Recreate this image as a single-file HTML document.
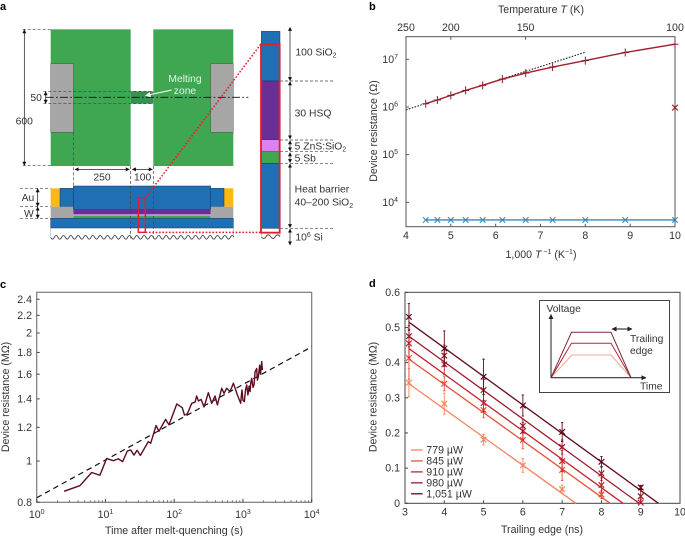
<!DOCTYPE html>
<html>
<head>
<meta charset="utf-8">
<style>
html,body{margin:0;padding:0;background:#fff;width:685px;height:536px;overflow:hidden}
svg{display:block;font-family:"Liberation Sans",sans-serif;fill:#333;filter:blur(0.3px)}
text{fill:#333}
</style>
</head>
<body>
<svg id="fig" width="685" height="536" viewBox="0 0 685 536" xmlns="http://www.w3.org/2000/svg">
<defs>
<marker id="ah" viewBox="0 0 10 10" refX="9" refY="5" markerWidth="12" markerHeight="12" markerUnits="userSpaceOnUse" orient="auto-start-reverse"><path d="M0 0L10 5L0 10Z" fill="#111"/></marker>
<marker id="ah2" viewBox="0 0 10 10" refX="9" refY="5" markerWidth="5" markerHeight="5" markerUnits="userSpaceOnUse" orient="auto-start-reverse"><path d="M0 0L10 5L0 10Z" fill="#222"/></marker>
<marker id="aw" viewBox="0 0 10 10" refX="9" refY="5" markerWidth="16" markerHeight="16" markerUnits="userSpaceOnUse" orient="auto"><path d="M0 0L10 5L0 10Z" fill="#fff"/></marker>
</defs>

<g font-weight="bold" font-size="11">
<text x="0" y="10" style="fill:#000">a</text>
<text x="369" y="10" style="fill:#000">b</text>
<text x="0" y="288" style="fill:#000">c</text>
<text x="369" y="287" style="fill:#000">d</text>
</g>

<g transform="scale(0.33333)" font-size="31">
<rect x="152" y="88" width="240" height="410" fill="#3fa752"/>
<rect x="460" y="88" width="240" height="410" fill="#3fa752"/>
<rect x="392" y="274" width="68" height="37" fill="#37924f"/>
<rect x="152" y="191" width="68" height="206" fill="#a6a6a6" stroke="#3a4a3a" stroke-width="1.2"/>
<rect x="632" y="191" width="68" height="206" fill="#a6a6a6" stroke="#3a4a3a" stroke-width="1.2"/>

<g stroke="#1c3554" stroke-width="1.5">
<rect x="152" y="565" width="28" height="55" fill="#fdb913" stroke="none"/>
<rect x="672" y="565" width="28" height="55" fill="#fdb913" stroke="none"/>
<rect x="180" y="565" width="40" height="55" fill="#1f6fb5"/>
<rect x="632" y="565" width="40" height="55" fill="#1f6fb5"/>
<rect x="152" y="620" width="68" height="35" fill="#a6a6a6" stroke="none"/>
<rect x="632" y="620" width="68" height="35" fill="#a6a6a6" stroke="none"/>
<rect x="220" y="558" width="412" height="70" fill="#1f6fb5"/>
<rect x="220" y="628" width="412" height="15" fill="#6b2d96" stroke="none"/>
<rect x="220" y="643" width="412" height="5" fill="#c88ae0" stroke="none"/>
<rect x="220" y="648" width="412" height="7" fill="#3fa752" stroke="none"/>
<rect x="152" y="655" width="548" height="29" fill="#1f6fb5"/>
</g>
<path d="M152 684V708M700 684V708M784 684V708M840 684V708" stroke="#999" stroke-width="1.5" fill="none"/>
<path d="M152 712q5.5 11 11 0t11 0t11 0t11 0t11 0t11 0t11 0t11 0t11 0t11 0t11 0t11 0t11 0t11 0t11 0t11 0t11 0t11 0t11 0t11 0t11 0t11 0t11 0t11 0t11 0t11 0t11 0t11 0t11 0t11 0t11 0t11 0t11 0t11 0t11 0t11 0t11 0t11 0t11 0t11 0t11 0t11 0t11 0t11 0t11 0t11 0t11 0t11 0t11 0t11 0" fill="none" stroke="#333" stroke-width="2.4"/>

<rect x="784" y="94" width="56" height="149" fill="#1f6fb5" stroke="#1c3554" stroke-width="1.5"/>
<rect x="784" y="243" width="56" height="177" fill="#6b2d96" stroke="#1c3554" stroke-width="1.5"/>
<rect x="784" y="420" width="56" height="35" fill="#dd80f2"/>
<rect x="784" y="455" width="56" height="35" fill="#3fa752" stroke="#1c3554" stroke-width="1.5"/>
<rect x="784" y="490" width="56" height="195" fill="#1f6fb5" stroke="#1c3554" stroke-width="1.5"/>
<path d="M784 710q7 11 14 0t14 0t14 0t14 0" fill="none" stroke="#333" stroke-width="2.4"/>

<g fill="none" stroke="#444" stroke-width="2" stroke-dasharray="9 6">
<path d="M68 88H152M68 497H152"/>
<path d="M130 274H460M130 311H460"/>
<path d="M220 397V558M392 498V715M460 498V715"/>
<path d="M60 565H152M60 620H152M60 655H152"/>
<path d="M840 243H1003M840 420H1003M840 455H1003M840 490H1003M840 685H1003"/>
</g>
<path d="M137 292H745" stroke="#111" stroke-width="2.5" stroke-dasharray="24 7 5 7" fill="none"/>

<g fill="none" stroke="#222" stroke-width="2.2">
<line x1="73" y1="89" x2="73" y2="496" marker-start="url(#ah)" marker-end="url(#ah)"/>
<line x1="137" y1="275" x2="137" y2="310" marker-start="url(#ah)" marker-end="url(#ah)"/>
<line x1="225" y1="508" x2="388" y2="508" marker-start="url(#ah)" marker-end="url(#ah)"/>
<line x1="397" y1="508" x2="457" y2="508" marker-start="url(#ah)" marker-end="url(#ah)"/>
<line x1="113" y1="566" x2="113" y2="619" marker-start="url(#ah)" marker-end="url(#ah)"/>
<line x1="113" y1="621" x2="113" y2="655" marker-start="url(#ah)" marker-end="url(#ah)"/>
<line x1="870" y1="82" x2="870" y2="242" marker-start="url(#ah)" marker-end="url(#ah)"/>
<line x1="870" y1="245" x2="870" y2="417" marker-start="url(#ah)" marker-end="url(#ah)"/>
<line x1="870" y1="422" x2="870" y2="453" marker-start="url(#ah)" marker-end="url(#ah)"/>
<line x1="870" y1="458" x2="870" y2="488" marker-start="url(#ah)" marker-end="url(#ah)"/>
<line x1="870" y1="492" x2="870" y2="683" marker-start="url(#ah)" marker-end="url(#ah)"/>
<line x1="870" y1="687" x2="870" y2="735" marker-start="url(#ah)" marker-end="url(#ah)"/>
</g>

<g fill="none" stroke="#e3202a">
<rect x="415" y="593" width="21" height="104" stroke-width="4.5"/>
<rect x="783" y="133" width="56" height="565" stroke-width="5.5"/>
<path d="M437 593L782 133M437 697H782" stroke-width="4.5" stroke-dasharray="5 5"/>
</g>

<line x1="515" y1="270" x2="437" y2="287" stroke="#fff" stroke-width="3" marker-end="url(#aw)"/>
<text x="555" y="246" text-anchor="middle" style="fill:#e4f4e4">Melting</text>
<text x="555" y="282" text-anchor="middle" style="fill:#e4f4e4">zone</text>
<text x="47" y="374">600</text>
<text x="91" y="303">50</text>
<text x="280" y="541">250</text>
<text x="402" y="541">100</text>
<text x="65" y="603">Au</text>
<text x="72" y="651">W</text>
<text x="886" y="166">100 SiO<tspan dy="7" font-size="21">2</tspan></text>
<text x="884" y="349">30 HSQ</text>
<text x="884" y="448">5 ZnS:SiO<tspan dy="7" font-size="21">2</tspan></text>
<text x="884" y="484">5 Sb</text>
<text x="884" y="578">Heat barrier</text>
<text x="884" y="617">40–200 SiO<tspan dy="7" font-size="21">2</tspan></text>
<text x="886" y="722">10<tspan dy="-11" font-size="21">6</tspan><tspan dy="11"> Si</tspan></text>
</g>

<text x="541" y="258" text-anchor="middle" font-size="10.6">1,000 <tspan font-style="italic">T</tspan><tspan dy="-4" font-size="7"> −1</tspan><tspan dy="4"> (K</tspan><tspan dy="-4" font-size="7">−1</tspan><tspan dy="4">)</tspan></text>
<text x="541" y="13" text-anchor="middle" font-size="10.6">Temperature <tspan font-style="italic">T</tspan> (K)</text>

<g id="chartB"></g>
<g id="chartC"></g>
<g id="chartD"></g>

<g>
<rect x="539.5" y="300.5" width="130" height="92" fill="#fff" stroke="#444" stroke-width="1"/>
<path d="M551 377.7L572 355H611L631 377.7" fill="none" stroke="#f4a58c" stroke-width="1"/>
<path d="M551 377.7L571.5 343.3H611L631 377.7" fill="none" stroke="#b02a35" stroke-width="1"/>
<path d="M551 377.7L571.5 332.3H611L631 377.7" fill="none" stroke="#7a2a3a" stroke-width="1"/>
<line x1="551" y1="377.7" x2="551" y2="314.5" stroke="#333" stroke-width="1.1" marker-end="url(#ah2)"/>
<line x1="551" y1="377.7" x2="646" y2="377.7" stroke="#333" stroke-width="1.1" marker-end="url(#ah2)"/>
<line x1="612" y1="329" x2="632" y2="329" stroke="#111" stroke-width="1" marker-start="url(#ah2)" marker-end="url(#ah2)"/>
<text x="546.5" y="312" font-size="10.3">Voltage</text>
<text x="630" y="342" font-size="10.3">Trailing</text>
<text x="630" y="354" font-size="10.3">edge</text>
<text x="640" y="389.5" font-size="10.3">Time</text>
</g>

<script>
// ---- chart b data ----
var bInverseT = [4.44, 4.7, 5, 5.33, 5.71, 6.15, 6.67, 7.27, 8, 8.89, 10];
var bAmorphous = [1.17e6, 1.4e6, 1.75e6, 2.23e6, 2.84e6, 3.84e6, 5.13e6, 6.85e6, 9.4e6, 1.39e7, 2.07e7];
var bCrystalline = [4270, 4270, 4270, 4270, 4270, 4270, 4270, 4270, 4270, 4270, 4270];
var bFitX = [4, 8];
var bFitY = [8.7e5, 1.41e7];
var bOutlierX = [10];
var bOutlierY = [9.7e5];
var bXTicks = [4, 5, 6, 7, 8, 9, 10];
var bYExponents = [4, 5, 6, 7];
var bTopTemps = [250, 200, 150, 100];
// ---- chart c data ----
var cTimes = [2.5,4.27,6.3,8.3,10.4,13,15.4,17.8,20.8,23.3,26,28.8,32.2,42,45.5,54.4,60,75,84,109,131,141,155,180,201,212,225,246,272,314,351,393,425,491,531,580,649,726,830,927,950,970,1000,1048,1090,1135,1180,1230,1268,1300,1340,1400,1449,1500,1585,1620,1675,1750,1800,1875,1915];
var cResistance = [0.849,0.876,0.94,0.926,1.014,1.002,1.012,0.997,1.056,1.062,1.033,1.06,1.031,1.111,1.101,1.212,1.175,1.253,1.216,1.362,1.335,1.283,1.29,1.367,1.375,1.422,1.384,1.396,1.34,1.448,1.367,1.422,1.355,1.483,1.443,1.483,1.456,1.524,1.43,1.367,1.43,1.469,1.39,1.379,1.47,1.51,1.43,1.5,1.456,1.53,1.565,1.49,1.51,1.62,1.65,1.55,1.579,1.68,1.6,1.713,1.637];
var cFitTimes = [1, 10000];
var cFitResistance = [0.82, 1.856];
var cYTicks = [0.8, 1, 1.2, 1.4, 1.6, 1.8, 2, 2.2, 2.4];
var cYLabels = ['0.8', '1', '1.2', '1.4', '1.6', '1.8', '2', '2.2', '2.4'];
var cXExponents = [0, 1, 2, 3, 4];
// ---- chart d data ----
var dPowers = ['779 µW', '845 µW', '910 µW', '980 µW', '1,051 µW'];
var dColors = ['#f2845c', '#e8503a', '#c4242f', '#9c1a2a', '#5e0b1d'];
var dFitStart = [0.34, 0.41, 0.44, 0.475, 0.515];
var dFitZero = [7.35, 8.22, 8.55, 8.96, 9.45];
var dEdges = [3.1, 4, 5, 6, 7, 8, 9];
var dValues779 = [0.343, 0.283, 0.181, 0.108, 0.04];
var dValues845 = [0.413, 0.34, 0.265, 0.18, 0.095, 0.025];
var dValues910 = [0.455, 0.395, 0.285, 0.205, 0.12, 0.052, 0.002];
var dValues980 = [0.475, 0.42, 0.322, 0.22, 0.16, 0.085, 0.02];
var dValues1051 = [0.53, 0.44, 0.36, 0.278, 0.203, 0.118, 0.045];
var dErrors779 = [0.04, 0.03, 0.015, 0.02, 0.012];
var dErrors845 = [0.06, 0.02, 0.022, 0.025, 0.03, 0.012];
var dErrors910 = [0.04, 0.03, 0.025, 0.025, 0.03, 0.02, 0.01];
var dErrors980 = [0.03, 0.03, 0.03, 0.02, 0.02, 0.02, 0.02];
var dErrors1051 = [0.038, 0.05, 0.05, 0.03, 0.027, 0.015, 0.006];
var dXTicks = [3, 4, 5, 6, 7, 8, 9, 10];
var dYTicks = [0, 0.1, 0.2, 0.3, 0.4, 0.5, 0.6];

var NS = 'http://www.w3.org/2000/svg';
function make(tag, attrs, parent) {
  var e = document.createElementNS(NS, tag);
  for (var k in attrs) e.setAttribute(k, attrs[k]);
  parent.appendChild(e);
  return e;
}
function mark(tag, attrs, parent, name) {
  var e = make(tag, attrs, parent);
  
  
  return e;
}
function label(str, x, y, anchor, parent, name) {
  var t = mark('text', {x: x, y: y, 'text-anchor': anchor, 'font-size': 10.6}, parent, name);
  t.textContent = str;
  return t;
}
function powerLabel(exp, x, y, anchor, parent, name) {
  var t = mark('text', {x: x, y: y, 'text-anchor': anchor, 'font-size': 10.6}, parent, name);
  t.appendChild(document.createTextNode('10'));
  var s = make('tspan', {dy: -4, 'font-size': 7}, t);
  s.textContent = exp;
  return t;
}
function polyPath(xs, ys, xf, yf) {
  var d = '';
  for (var i = 0; i < xs.length; i++) d += (i ? 'L' : 'M') + xf(xs[i]).toFixed(2) + ' ' + yf(ys[i]).toFixed(2);
  return d;
}

// ---- chart b ----
(function () {
  var g = document.getElementById('chartB');
  var L = 406, R = 675, T = 36.7, B = 226.7;
  function x(v) { return L + (v - 4) * (R - L) / 6; }
  function y(v) { return 202.3 - (Math.log10(v) - 4) * 47.67; }
  mark('rect', {x: L, y: T, width: R - L, height: B - T, fill: 'none', stroke: '#555', 'stroke-width': 1}, g, 'plot-frame-b');
  bXTicks.forEach(function (v) {
    mark('line', {x1: x(v), x2: x(v), y1: B, y2: B - 3, stroke: '#555'}, g, 'x-tick-b');
    label(String(v), x(v), 239, 'middle', g, 'x-tick-label-b');
  });
  bYExponents.forEach(function (v) {
    var val = Math.pow(10, v);
    mark('line', {x1: L, x2: L + 3, y1: y(val), y2: y(val), stroke: '#555'}, g, 'y-tick-b');
    powerLabel(v, 398, y(val) + 3.5, 'end', g, 'y-tick-label-b');
  });
  bTopTemps.forEach(function (v) {
    mark('line', {x1: x(1000 / v), x2: x(1000 / v), y1: T, y2: T + 3, stroke: '#555'}, g, 'top-tick-b');
    label(String(v), x(1000 / v), 31, 'middle', g, 'top-tick-label-b');
  });
  mark('path', {d: polyPath(bFitX, bFitY, x, y), fill: 'none', stroke: '#222', 'stroke-width': 1.1, 'stroke-dasharray': '1.6 1.4'}, g, 'arrhenius-fit-line');
  mark('path', {d: polyPath(bInverseT, bAmorphous, x, y), fill: 'none', stroke: '#a51f2d', 'stroke-width': 1.4}, g, 'amorphous-line');
  mark('path', {d: polyPath(bInverseT, bCrystalline, x, y), fill: 'none', stroke: '#3a87b8', 'stroke-width': 1.4}, g, 'crystalline-line');
  bInverseT.forEach(function (v, i) {
    var px = x(v), py = y(bAmorphous[i]);
    mark('path', {d: 'M' + (px - 3.5) + ' ' + py + 'H' + (px + 3.5) + 'M' + px + ' ' + (py - 4) + 'V' + (py + 4), stroke: '#8e1d2c', 'stroke-width': 1, fill: 'none'}, g, 'amorphous-point');
    var cy = y(bCrystalline[i]);
    mark('path', {d: 'M' + (px - 2.8) + ' ' + (cy - 2.8) + 'L' + (px + 2.8) + ' ' + (cy + 2.8) + 'M' + (px + 2.8) + ' ' + (cy - 2.8) + 'L' + (px - 2.8) + ' ' + (cy + 2.8), stroke: '#3a87b8', 'stroke-width': 1.1, fill: 'none'}, g, 'crystalline-point');
  });
  bOutlierX.forEach(function (v, i) {
    var px = x(v), py = y(bOutlierY[i]);
    mark('path', {d: 'M' + (px - 2.8) + ' ' + (py - 2.8) + 'L' + (px + 2.8) + ' ' + (py + 2.8) + 'M' + (px + 2.8) + ' ' + (py - 2.8) + 'L' + (px - 2.8) + ' ' + (py + 2.8), stroke: '#a51f2d', 'stroke-width': 1.2, fill: 'none'}, g, 'outlier-point');
  });
  var yt = mark('text', {transform: 'translate(377,131) rotate(-90)', 'text-anchor': 'middle', 'font-size': 10.6}, g, 'y-axis-title-b');
  yt.textContent = 'Device resistance (Ω)';
})();

// ---- chart c ----
(function () {
  var g = document.getElementById('chartC');
  var L = 36.7, R = 311.7, T = 292.3, B = 502.3;
  function x(v) { return L + Math.log10(v) * (R - L) / 4; }
  function y(v) { return B - Math.log10(v / 0.8) * 425.5; }
  mark('rect', {x: L, y: T, width: R - L, height: B - T, fill: 'none', stroke: '#7a7a7a', 'stroke-width': 1.2}, g, 'plot-frame-c');
  cXExponents.forEach(function (e, idx) {
    var v = Math.pow(10, e);
    mark('line', {x1: x(v), x2: x(v), y1: B, y2: B - 3.5, stroke: '#444'}, g, 'x-tick-c');
    powerLabel(e, x(v), 518, 'middle', g, 'x-tick-label-c');
    if (idx < cXExponents.length - 1) {
      for (var m = 2; m < 10; m++) {
        mark('line', {x1: x(m * v), x2: x(m * v), y1: B, y2: B - 2, stroke: '#555', 'stroke-width': 0.8}, g, 'x-minor-tick-c');
      }
    }
  });
  cYTicks.forEach(function (v, i) {
    mark('line', {x1: L, x2: L + 3, y1: y(v), y2: y(v), stroke: '#444'}, g, 'y-tick-c');
    label(cYLabels[i], 32, y(v) + 3.6, 'end', g, 'y-tick-label-c');
  });
  mark('path', {d: polyPath(cFitTimes, cFitResistance, x, y), fill: 'none', stroke: '#111', 'stroke-width': 1.2, 'stroke-dasharray': '5.5 4'}, g, 'log-fit-line');
  mark('path', {d: polyPath(cTimes, cResistance, x, y), fill: 'none', stroke: '#5e0b1d', 'stroke-width': 1.4, 'stroke-linejoin': 'round'}, g, 'resistance-drift-line');
  var xt = mark('text', {x: 174, y: 534, 'text-anchor': 'middle', 'font-size': 10.6}, g, 'x-axis-title-c');
  xt.textContent = 'Time after melt-quenching (s)';
  var yt = mark('text', {transform: 'translate(9,397) rotate(-90)', 'text-anchor': 'middle', 'font-size': 10.6}, g, 'y-axis-title-c');
  yt.textContent = 'Device resistance (MΩ)';
})();

// ---- chart d ----
(function () {
  var g = document.getElementById('chartD');
  var L = 405, R = 680, T = 292.3, B = 503.3;
  function x(v) { return L + (v - 3) * (R - L) / 7; }
  function y(v) { return B - v * (B - T) / 0.6; }
  mark('rect', {x: L, y: T, width: R - L, height: B - T, fill: 'none', stroke: '#444', 'stroke-width': 1}, g, 'plot-frame-d');
  dXTicks.forEach(function (v) {
    mark('line', {x1: x(v), x2: x(v), y1: B, y2: B - 3, stroke: '#444'}, g, 'x-tick-d');
    label(String(v), x(v), 515.5, 'middle', g, 'x-tick-label-d');
  });
  dYTicks.forEach(function (v) {
    mark('line', {x1: L, x2: L + 3, y1: y(v), y2: y(v), stroke: '#444'}, g, 'y-tick-d');
    label(v === 0 ? '0' : v.toFixed(1), 400, y(v) + 3.6, 'end', g, 'y-tick-label-d');
  });
  var values = [dValues779, dValues845, dValues910, dValues980, dValues1051];
  var errors = [dErrors779, dErrors845, dErrors910, dErrors980, dErrors1051];
  dPowers.forEach(function (p, s) {
    var col = dColors[s];
    mark('line', {x1: x(3.1), y1: y(dFitStart[s]), x2: x(dFitZero[s]), y2: y(0), stroke: col, 'stroke-width': 1.3}, g, 'fit-line-' + s);
    values[s].forEach(function (v, i) {
      var px = x(dEdges[i]), py = y(v), e = errors[s][i];
      mark('path', {d: 'M' + px + ' ' + y(v + e) + 'V' + Math.min(y(v - e), B) + 'M' + (px - 1.2) + ' ' + y(v + e) + 'H' + (px + 1.2) + 'M' + (px - 1.2) + ' ' + Math.min(y(v - e), B) + 'H' + (px + 1.2), stroke: col, 'stroke-width': 0.9, fill: 'none'}, g, 'error-bar-' + s);
      mark('path', {d: 'M' + (px - 2.8) + ' ' + (py - 2.8) + 'L' + (px + 2.8) + ' ' + (py + 2.8) + 'M' + (px + 2.8) + ' ' + (py - 2.8) + 'L' + (px - 2.8) + ' ' + (py + 2.8), stroke: col, 'stroke-width': 1.2, fill: 'none'}, g, 'data-point-' + s);
    });
    var ly = 450 + s * 10.95;
    mark('line', {x1: 411, x2: 422.7, y1: ly, y2: ly, stroke: col, 'stroke-width': 1.3}, g, 'legend-swatch-' + s);
    label(p, 426.3, ly + 3.6, 'start', g, 'legend-entry-' + s);
  });
  var xt = mark('text', {x: 542, y: 533, 'text-anchor': 'middle', 'font-size': 10.6}, g, 'x-axis-title-d');
  xt.textContent = 'Trailing edge (ns)';
  var yt = mark('text', {transform: 'translate(376.5,397) rotate(-90)', 'text-anchor': 'middle', 'font-size': 10.6}, g, 'y-axis-title-d');
  yt.textContent = 'Device resistance (MΩ)';
})();
</script>
</svg>
</body>
</html>
